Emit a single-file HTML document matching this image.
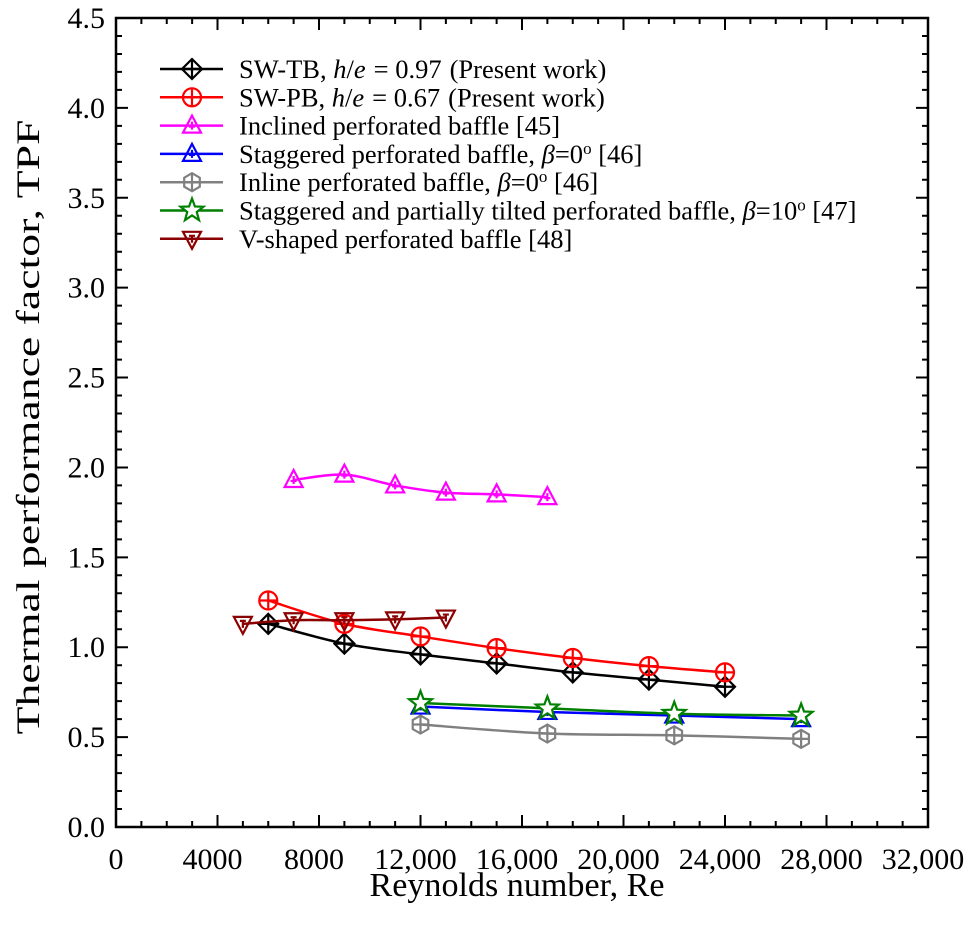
<!DOCTYPE html>
<html><head><meta charset="utf-8"><style>
body{margin:0;background:#fff;}
svg{display:block;font-family:"Liberation Serif",serif;}
</style></head><body>
<svg id="chart" width="969" height="937" viewBox="0 0 969 937">
<g id="axes"></g><g id="series"></g><g id="legend"></g>
<text x="517" y="896" font-size="34" text-anchor="middle" textLength="295" lengthAdjust="spacingAndGlyphs">Reynolds number, Re</text>
<text transform="translate(39,427) rotate(-90)" font-size="33" text-anchor="middle" textLength="615" lengthAdjust="spacingAndGlyphs">Thermal performance factor, TPF</text>
</svg>
<script>
const xTicks=[0,4000,8000,12000,16000,20000,24000,28000,32000];
const xTickLabels=["0","4000","8000","12,000","16,000","20,000","24,000","28,000","32,000"];
const yTicks=[0,0.5,1,1.5,2,2.5,3,3.5,4,4.5];
const yTickLabels=["0.0","0.5","1.0","1.5","2.0","2.5","3.0","3.5","4.0","4.5"];
const tbX=[6000,9000,12000,15000,18000,21000,24000];
const tbY=[1.13,1.02,0.96,0.91,0.86,0.82,0.78];
const pbX=[6000,9000,12000,15000,18000,21000,24000];
const pbY=[1.26,1.13,1.06,0.995,0.94,0.895,0.86];
const inclX=[7000,9000,11000,13000,15000,17000];
const inclY=[1.93,1.96,1.90,1.86,1.85,1.835];
const stagX=[12000,17000,22000,27000];
const stagY=[0.67,0.64,0.62,0.60];
const inlineX=[12000,17000,22000,27000];
const inlineY=[0.57,0.52,0.51,0.49];
const tiltX=[12000,17000,22000,27000];
const tiltY=[0.69,0.66,0.63,0.62];
const vX=[5000,7000,9000,11000,13000];
const vY=[1.13,1.15,1.15,1.155,1.165];

const L=116,R=928,T=18,B=827;
const sx=v=>L+(v/32000)*(R-L);
const sy=v=>B-(v/4.5)*(B-T);
const NS="http://www.w3.org/2000/svg";
function mk(tag,attrs,parent){const e=document.createElementNS(NS,tag);for(const k in attrs)e.setAttribute(k,attrs[k]);parent.appendChild(e);return e;}
const axes=document.getElementById('axes');
const frame=mk('rect',{x:L,y:T,width:R-L,height:B-T,fill:'none',stroke:'#000','stroke-width':2.5},axes);


let d='';
for(let v=0;v<=32000;v+=1000){const x=sx(v);const len=v%4000===0?12:6;d+=`M${x},${B}v${-len}M${x},${T}v${len}`;}
for(let i=0;i<=45;i++){const y=sy(i/10);const len=i%5===0?12:6;d+=`M${L},${y}h${len}M${R},${y}h${-len}`;}
const tk=mk('path',{d:d,stroke:'#000','stroke-width':2,fill:'none'},axes);


xTicks.forEach((v,i)=>{const t=mk('text',{x:sx(v)-(i===0?0:5),y:869,'font-size':30,'text-anchor':'middle'},axes);t.textContent=xTickLabels[i];

});
yTicks.forEach((v,i)=>{const t=mk('text',{x:105,y:sy(v)+10,'font-size':30,'text-anchor':'end'},axes);t.textContent=yTickLabels[i];

});

function smooth(pts){let s=`M${pts[0][0]},${pts[0][1]}`;for(let i=0;i<pts.length-1;i++){const p0=pts[i-1]||pts[i],p1=pts[i],p2=pts[i+1],p3=pts[i+2]||p2;
s+=`C${p1[0]+(p2[0]-p0[0])/6},${p1[1]+(p2[1]-p0[1])/6} ${p2[0]-(p3[0]-p1[0])/6},${p2[1]-(p3[1]-p1[1])/6} ${p2[0]},${p2[1]}`;}return s;}
function marker(g,type,x,y,c){
 const a={fill:'none',stroke:c,'stroke-width':2.2};
 if(type==='diamond'){mk('path',Object.assign({d:`M${x},${y-10}L${x+10},${y}L${x},${y+10}L${x-10},${y}ZM${x-10},${y}h20M${x},${y-10}v20`},a),g);}
 else if(type==='circle'){mk('circle',Object.assign({cx:x,cy:y,r:9},a),g);mk('path',Object.assign({d:`M${x-9},${y}h18M${x},${y-9}v18`},a),g);}
 else if(type==='tri'){mk('path',Object.assign({d:`M${x},${y-10}L${x+9},${y+7}L${x-9},${y+7}ZM${x},${y-4}v8M${x-3},${y+1}h6`},a),g);}
 else if(type==='hex'){let p='';for(let k=0;k<6;k++){const an=Math.PI/3*k+Math.PI/2;p+=(k?'L':'M')+(x+9*Math.cos(an))+','+(y+9*Math.sin(an));}mk('path',Object.assign({d:p+`ZM${x-8},${y}h16M${x},${y-9}v18`},a),g);}
 else if(type==='star'){let p='';for(let k=0;k<10;k++){const r=k%2?5:12;const an=-Math.PI/2+Math.PI/5*k;p+=(k?'L':'M')+(x+r*Math.cos(an))+','+(y+r*Math.sin(an));}mk('path',Object.assign({d:p+'Z'},a,{fill:'#fff'}),g);}
 else if(type==='vtri'){mk('path',Object.assign({d:`M${x},${y+10}L${x+9},${y-7}L${x-9},${y-7}ZM${x},${y-4}v8M${x-3},${y-3}h6`},a),g);}
}
const series=[
 {n:'sw-tb',X:tbX,Y:tbY,c:'#000',m:'diamond'},
 {n:'sw-pb',X:pbX,Y:pbY,c:'#ff0000',m:'circle'},
 {n:'inclined',X:inclX,Y:inclY,c:'#ff00ff',m:'tri'},
 {n:'inline',X:inlineX,Y:inlineY,c:'#808080',m:'hex'},
 {n:'staggered',X:stagX,Y:stagY,c:'#0000ff',m:'tri'},
 {n:'tilted',X:tiltX,Y:tiltY,c:'#008000',m:'star'},
 {n:'v-shaped',X:vX,Y:vY,c:'#8b0000',m:'vtri'}
];
const sg=document.getElementById('series');
series.forEach(s=>{const g=mk('g',{},sg);
 
 
 const pts=s.X.map((v,i)=>[sx(v),sy(s.Y[i])]);
 mk('path',{d:smooth(pts),fill:'none',stroke:s.c,'stroke-width':2.5},g);
 pts.forEach(p=>marker(g,s.m,p[0],p[1],s.c));});

const leg=[
 {c:'#000',m:'diamond',h:'SW-TB, <tspan font-style="italic">h</tspan>/<tspan font-style="italic">e</tspan><tspan dx="8">= 0.97</tspan><tspan dx="8">(Present work)</tspan>'},
 {c:'#ff0000',m:'circle',h:'SW-PB, <tspan font-style="italic">h</tspan>/<tspan font-style="italic">e</tspan><tspan dx="8">= 0.67</tspan><tspan dx="8">(Present work)</tspan>'},
 {c:'#ff00ff',m:'tri',h:'Inclined perforated baffle [45]'},
 {c:'#0000ff',m:'tri',h:'Staggered perforated baffle, <tspan font-style="italic">β</tspan>=0<tspan dy="-9" font-size="17">o</tspan><tspan dy="9"> [46]</tspan>'},
 {c:'#808080',m:'hex',h:'Inline perforated baffle, <tspan font-style="italic">β</tspan>=0<tspan dy="-9" font-size="17">o</tspan><tspan dy="9"> [46]</tspan>'},
 {c:'#008000',m:'star',h:'Staggered and partially tilted perforated baffle, <tspan font-style="italic">β</tspan>=10<tspan dy="-9" font-size="17">o</tspan><tspan dy="9"> [47]</tspan>'},
 {c:'#8b0000',m:'vtri',h:'V-shaped perforated baffle [48]'}
];
const lg=document.getElementById('legend');
leg.forEach((e,i)=>{const y=69+i*28.3;const g=mk('g',{},lg);
 
 
 mk('path',{d:`M160,${y}h63`,stroke:e.c,'stroke-width':2.5},g);
 marker(g,e.m,192,y,e.c);
 const t=mk('text',{x:239,y:y+9,'font-size':26.5},g);t.innerHTML=e.h;});
</script>
</body></html>
